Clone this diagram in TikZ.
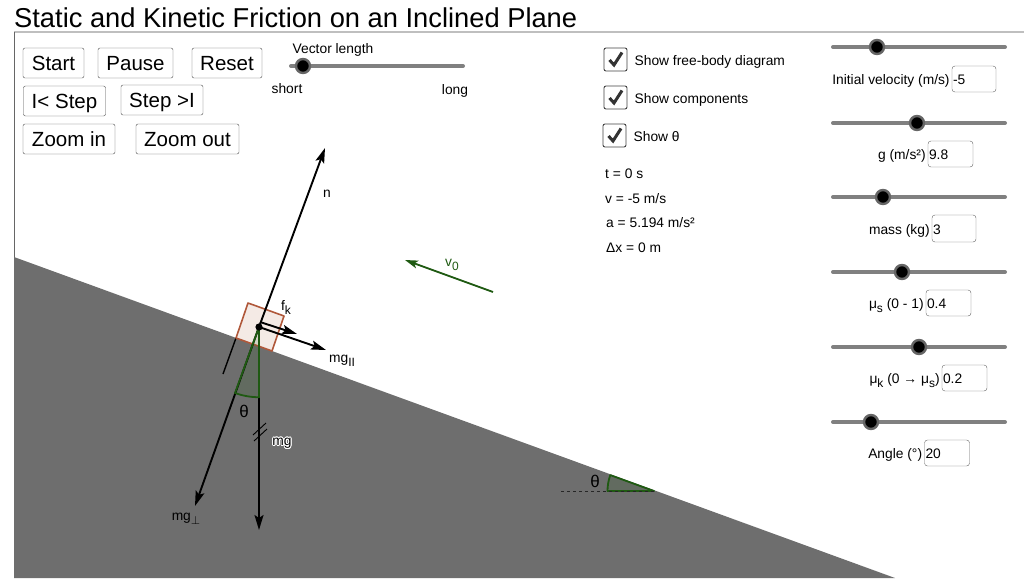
\documentclass[tikz,border=0pt]{standalone}
\usepackage{fontspec}
\setmainfont{Liberation Sans}
\usepackage[copies]{contour}
\usetikzlibrary{arrows.meta}
\definecolor{groundgray}{HTML}{6E6E6E}
\definecolor{trackgray}{HTML}{808080}
\definecolor{wedgegreen}{HTML}{1F5A12}
\definecolor{blockred}{HTML}{B0583A}
\definecolor{blockfill}{HTML}{F4EAE5}
\contourlength{0.9pt}
\newcommand{\lowtext}[1]{\raisebox{-.5ex}{\fontsize{12}{12}\selectfont #1}}
\tikzset{
  txt/.style={inner sep=0pt,yshift=-3pt,font=\fontsize{13.8}{16}\selectfont},
  btn/.style={draw=black!70,rounded corners=2pt,inner sep=0pt,minimum height=30pt,text height=15pt,text depth=0pt,font=\fontsize{20.5}{24}\selectfont},
  inputbox/.style={draw=black!60,rounded corners=3pt,inner sep=0pt,minimum height=26pt,minimum width=45pt},
  tickbox/.style={draw=black!75,line width=.9pt,rounded corners=2pt,inner sep=0pt,minimum size=23pt},
  track/.style={line width=4pt,trackgray,line cap=round},
  force/.style={line width=1.9pt,-{Stealth[length=15pt,width=9pt,inset=3pt]}},
  wedge/.style={draw=wedgegreen,line width=1.8pt,fill=wedgegreen,fill opacity=.15,line join=round},
}
\begin{document}
\begin{tikzpicture}[x=1pt,y=-1pt]
\useasboundingbox (0,0) rectangle (1024,578);
% Title and panel frame
\node[anchor=mid west,inner sep=0pt,font=\fontsize{27.3}{32}\selectfont] (title) at (14,25) {Static and Kinetic Friction on an Inclined Plane};
\coordinate (frameA) at (14,32);
\coordinate (frameB) at (1024,32);
\coordinate (frameC) at (14,578);
\draw[black!25,line width=1.2pt] (frameB) -- (frameA);
\draw[black!60,line width=.8pt] (frameA) -- (frameC);
% Inclined plane
\coordinate (top) at (14,257);
\coordinate (foot) at (895,578);
\fill[groundgray] (top) -- (foot) -- (frameC) -- cycle;
% Buttons
\node[btn,minimum width=61pt] (start) at (53.5,63) {Start};
\node[btn,minimum width=75pt] (pause) at (135.5,63) {Pause};
\node[btn,minimum width=70pt] (reset) at (227,63) {Reset};
\node[btn,minimum width=82pt] (stepback) at (64.5,101) {I< Step};
\node[btn,minimum width=82pt] (stepfwd) at (162,100) {Step >I};
\node[btn,minimum width=92pt] (zoomin) at (69,139) {Zoom in};
\node[btn,minimum width=103pt] (zoomout) at (187.5,139) {Zoom out};
% Vector length slider
\coordinate (vecA) at (291,66);
\coordinate (vecB) at (463,66);
\draw[track] (vecA) -- (vecB);
\node[circle,fill=black,draw=black!60,line width=2.4pt,minimum size=14pt,inner sep=0pt] (vecknob) at (303,66) {};
\node[txt,anchor=mid] (veclabel) at (333,48) {Vector length};
\node[txt,anchor=mid] (short) at (287,88) {short};
\node[txt,anchor=mid] (long) at (455,89) {long};
% Check boxes
\foreach \name/\x/\y/\lab in {free/615.5/59.5/Show free-body diagram,comp/615.5/97.5/Show components,showth/614.5/135.5/Show θ}{
  \node[tickbox] (\name) at (\x,\y) {};
  \draw[line width=3pt,black!80] ([shift={(-6,0.5)}]\name.center) -- ([shift={(-1.5,5.5)}]\name.center) -- ([shift={(6.5,-7)}]\name.center);
  \node[txt,anchor=mid west] (\name text) at ([xshift=7pt]\name.east) {\lab};
}
% Readouts
\node[txt,anchor=mid west] (tval) at (605,173) {t = 0 s};
\node[txt,anchor=mid west] (vval) at (605,198) {v = -5 m/s};
\node[txt,anchor=mid west] (aval) at (606,222) {a = 5.194 m/s²};
\node[txt,anchor=mid west] (dxval) at (606,247) {Δx = 0 m};
% Sliders on the right
\foreach \y/\k in {47/877,123/917,197/883,272/902,347/919,422/871}{
  \draw[track] (833,\y) -- (1005,\y);
  \node[circle,fill=black,draw=black!60,line width=2.4pt,minimum size=14pt,inner sep=0pt] (knob\y) at (\k,\y) {};
}
% Input boxes
\node[inputbox,minimum width=44pt] (vel) at (974,79) {};
\node[inputbox] (grav) at (950.5,154) {};
\node[inputbox,minimum height=27pt,minimum width=44pt] (mass) at (954,228.5) {};
\node[inputbox] (mus) at (948.5,303) {};
\node[inputbox] (muk) at (964.5,378) {};
\node[inputbox] (angle) at (947,453) {};
\foreach \b/\v in {vel/-5,grav/9.8,mass/3,mus/0.4,muk/0.2,angle/20}{
  \node[txt,anchor=mid west,xshift=1pt] (\b val) at (\b.west) {\v};
}
\node[txt,anchor=mid east,xshift=-2pt] (vellab) at (vel.west) {Initial velocity (m/s)};
\node[txt,anchor=mid east,xshift=-2pt] (gravlab) at (grav.west) {g (m/s²)};
\node[txt,anchor=mid east,xshift=-2pt] (masslab) at (mass.west) {mass (kg)};
\node[txt,anchor=mid east,xshift=-2pt] (muslab) at (mus.west) {μ\lowtext{s} (0 - 1)};
\node[txt,anchor=mid east,xshift=-2pt] (muklab) at (muk.west) {μ\lowtext{k} (0 → μ\lowtext{s})};
\node[txt,anchor=mid east,xshift=-2pt] (anglelab) at (angle.west) {Angle (°)};
% Block and free-body diagram
\coordinate (c) at (259,327);
\coordinate (edgeA) at (223,374);
\coordinate (edgeB) at (236,338);
\draw[line width=1.4pt] (edgeA) -- (edgeB);
\draw[blockred,line width=1.6pt,fill=blockfill,line join=round] (248,303) -- (284,316) -- (272,351) -- (edgeB) -- cycle;
\coordinate (ntip) at (325,148);
\coordinate (perp) at (195,506);
\coordinate (mgtip) at (259,530);
\coordinate (fktail) at (260,322);
\coordinate (fktip) at (297,334);
\coordinate (paratip) at (326,350);
\draw[force] (c) -- (ntip);
\draw[force] (c) -- (perp);
\draw[force] (c) -- (mgtip);
\draw[force] (fktail) -- (fktip);
\draw[force] (c) -- (paratip);
\draw[wedge] (c) -- (235,393) arc[start angle=110,end angle=90,radius=70.2] -- cycle;
\fill (c) circle[radius=3.6];
\draw[line width=.9pt] (253,435) -- (266,423) (254,441) -- (267,429);
\node[txt,anchor=mid] (nlab) at (327,192) {n};
\node[txt,anchor=mid] (fklab) at (286,305) {f\lowtext{k}};
\node[txt,anchor=mid] (paralab) at (342,357) {mg\lowtext{II}};
\node[txt,anchor=mid] (mglab) at (282,440) {\contour{white}{mg}};
\node[txt,anchor=mid] (perplab) at (186,515) {mg\lowtext{$\perp$}};
\node[inner sep=0pt,anchor=mid,font=\fontsize{17}{18}\selectfont] (thA) at (244,415) {θ};
% Velocity vector
\coordinate (vtail) at (493,292);
\coordinate (vtip) at (405,260);
\draw[wedgegreen,line width=1.8pt,-{Stealth[length=13pt,width=8pt,inset=3pt]}] (vtail) -- (vtip);
\node[txt,anchor=mid,wedgegreen] (vlab) at (452,261) {v\lowtext{0}};
% Angle of the incline
\coordinate (apex) at (654,491);
\coordinate (dashend) at (561,491);
\draw[wedge] (apex) -- (610.3,475.1) arc[start angle=200,end angle=180,radius=46.5] -- cycle;
\draw[dashed,line width=.9pt,black!85] (dashend) -- (apex);
\node[inner sep=0pt,anchor=mid,font=\fontsize{17}{18}\selectfont] (thB) at (595,485) {θ};
\end{tikzpicture}
\end{document}
